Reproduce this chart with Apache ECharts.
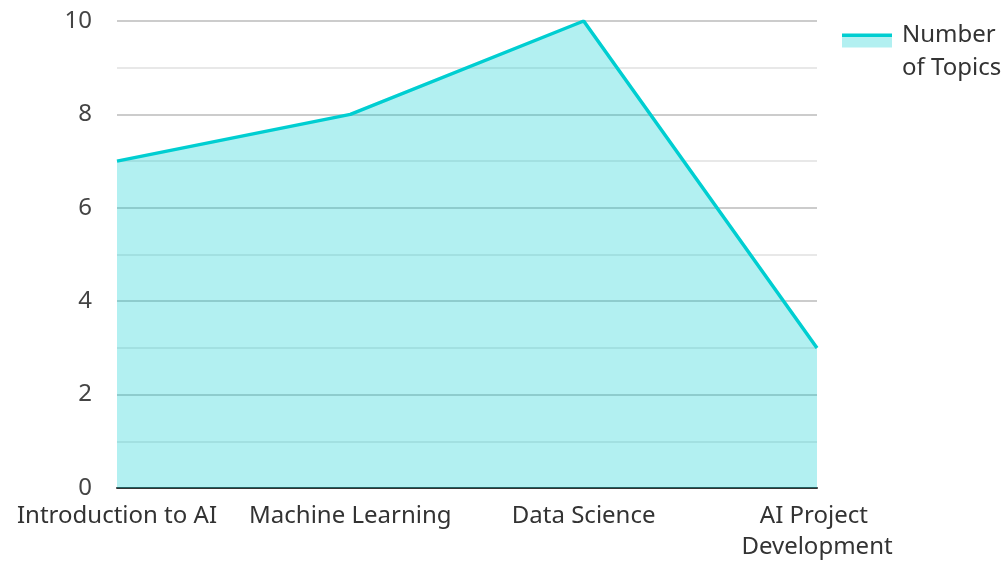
<!DOCTYPE html>
<html>
<head>
    <meta charset="utf-8">
    <title>Number of Topics</title>
    <script src="https://cdn.jsdelivr.net/npm/echarts@6/dist/echarts.min.js"></script>
    <style>
        html, body { margin: 0; padding: 0; background: #fff; }
        #chart { width: 1007px; height: 563px; }
    </style>
</head>
<body>
<div id="chart"></div>
<script>
    var categories = ['Introduction to AI', 'Machine Learning', 'Data Science', 'AI Project Development'];
    var topicCounts = [7, 8, 10, 3];
    var seriesName = 'Number of Topics';

    var chart = echarts.init(document.getElementById('chart'));
    var fontFamily = '"Noto Sans", "Open Sans", sans-serif';
    var lineColor = '#00CED1';

    var option = {
        animation: false,
        grid: { left: 115, right: 190, top: 21, bottom: 70, containLabel: false },
        legend: {
            left: 842,
            top: 7,
            padding: 0,
            orient: 'vertical',
            icon: 'rect',
            itemWidth: 50,
            itemHeight: 14,
            data: [seriesName],
            itemStyle: {
                // line on top, light area below, like the series itself
                color: new echarts.graphic.LinearGradient(0, 0, 0, 1, [
                    { offset: 0, color: lineColor },
                    { offset: 0.28, color: lineColor },
                    { offset: 0.28, color: '#b2f0f1' },
                    { offset: 1, color: '#b2f0f1' }
                ]),
                borderWidth: 0
            },
            lineStyle: { width: 0 },
            formatter: function (name) {
                // spacer line first so the label's first line sits beside the icon
                return '{t| }\n{a|' + name.replace(' of ', '}\n{a|of ') + '}';
            },
            textStyle: {
                fontFamily: fontFamily,
                fontSize: 24,
                color: '#333',
                rich: {
                    t: { fontSize: 1, lineHeight: 22 },
                    a: { fontFamily: fontFamily, fontSize: 24, color: '#333', lineHeight: 33, padding: [0, 0, 0, 5] }
                }
            }
        },
        xAxis: {
            type: 'category',
            data: categories,
            boundaryGap: false,
            axisLine: { lineStyle: { color: '#333', width: 2 } },
            axisTick: { show: false },
            axisLabel: {
                interval: 0,
                margin: 13,
                fontFamily: fontFamily,
                fontSize: 24,
                color: '#333',
                width: 228,
                overflow: 'break',
                lineHeight: 31
            }
        },
        yAxis: {
            type: 'value',
            min: 0,
            max: 10,
            interval: 2,
            axisLine: { show: false },
            axisTick: { show: false },
            axisLabel: {
                margin: 25,
                fontFamily: fontFamily,
                fontSize: 24,
                color: '#444'
            },
            splitLine: { lineStyle: { color: '#ccc', width: 2 } },
            minorTick: { show: false, splitNumber: 2 },
            minorSplitLine: { show: true, lineStyle: { color: '#e8e8e8', width: 2 } }
        },
        series: [
            {
                name: seriesName,
                type: 'line',
                data: topicCounts,
                showSymbol: false,
                symbol: 'none',
                lineStyle: { color: lineColor, width: 3.5 },
                itemStyle: { color: lineColor },
                areaStyle: { color: lineColor, opacity: 0.3 }
            }
        ]
    };

    chart.setOption(option);
</script>
</body>
</html>
